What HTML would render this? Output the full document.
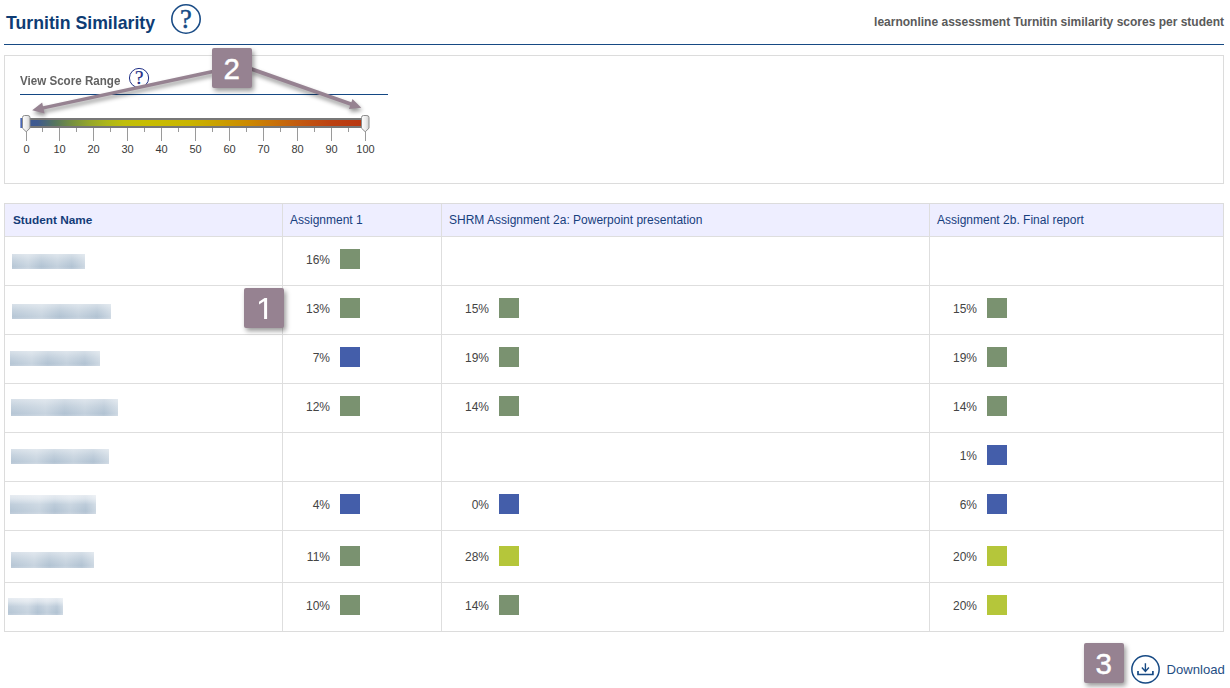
<!DOCTYPE html>
<html>
<head>
<meta charset="utf-8">
<title>Turnitin Similarity</title>
<style>
html,body{margin:0;padding:0;background:#fff;}
body{width:1230px;height:688px;position:relative;overflow:hidden;font-family:"Liberation Sans",sans-serif;}
.abs{position:absolute;}
#title{left:6px;top:13px;font-size:17.7px;font-weight:bold;color:#0e3c74;white-space:nowrap;line-height:21px;}
#sub{right:6px;top:15px;font-size:12px;font-weight:bold;color:#5a5a5a;white-space:nowrap;line-height:14px;}
#hr{left:4px;top:44px;width:1220px;height:1px;background:#174a84;}
#panel{left:4px;top:55px;width:1218px;height:127px;border:1px solid #dcdcdc;}
#vsr{left:20px;top:72.8px;font-size:13.4px;font-weight:bold;color:#626262;white-space:nowrap;line-height:16px;transform:scaleX(0.866);transform-origin:0 0;}
#vsrline{left:20px;top:94px;width:368px;height:1px;background:#144884;}
#bar{left:20px;top:118px;width:348px;height:6px;border-top:2px solid #777;border-bottom:2px solid #777;
 background:linear-gradient(to right,#3c5898 0%,#3f5a8e 5%,#55755e 10%,#76903f 15%,#95a62a 20%,#adb61a 25%,#c0be0a 30%,#c8bd02 37%,#c9b400 49%,#caa000 57%,#cc8800 66%,#c87408 72%,#c25a10 80%,#bc4212 89%,#b83410 100%);}
.tick{position:absolute;width:1px;background:#9a9a9a;top:128px;}
.lab{position:absolute;top:143px;width:30px;margin-left:-15px;text-align:center;font-size:11px;color:#3a3a3a;line-height:13px;}
#tbl{left:4px;top:203px;width:1220px;height:429px;border:1px solid #dcdcdc;box-sizing:border-box;}
#thead{left:5px;top:204px;width:1218px;height:32px;background:#eeeeff;}
.hl{position:absolute;left:5px;width:1218px;height:1px;background:#dedede;}
.vl{position:absolute;top:204px;width:1px;height:427px;background:#dedede;}
.th{position:absolute;top:213px;font-size:12px;color:#17407e;white-space:nowrap;line-height:14px;}
.pc{position:absolute;width:40px;text-align:right;font-size:12px;color:#444;line-height:14px;white-space:nowrap;}
.sq{position:absolute;width:20px;height:20px;}
.g{background:#7a9270;}
.b{background:#445eaa;}
.y{background:#b5c63a;}
.nm{position:absolute;filter:blur(0.5px);}
.call{position:absolute;width:40px;height:40px;background:#968291;border-radius:2px;color:#fff;font-size:29.5px;line-height:41.5px;text-align:center;text-indent:-0.5px;-webkit-text-stroke:0.45px #fff;box-shadow:2px 3px 5px rgba(0,0,0,0.4);}
#dl{left:1166.5px;top:662px;font-size:13.1px;color:#1f4e84;line-height:15px;white-space:nowrap;}
</style>
</head>
<body>
<div id="title" class="abs">Turnitin Similarity</div>
<svg class="abs" style="left:170px;top:3px" width="32" height="32" viewBox="0 0 32 32">
 <circle cx="16" cy="16" r="14.2" fill="#fff" stroke="#1a4c86" stroke-width="1.6"/>
 <text x="16" y="24.6" text-anchor="middle" font-family="Liberation Serif" font-size="26.5" fill="#144a85" stroke="#144a85" stroke-width="0.45">?</text>
</svg>
<div id="sub" class="abs">learnonline assessment Turnitin similarity scores per student</div>
<div id="hr" class="abs"></div>

<div id="panel" class="abs"></div>
<div id="vsr" class="abs">View Score Range</div>
<svg class="abs" style="left:128px;top:66.85px" width="22" height="22" viewBox="0 0 22 22">
 <circle cx="11.05" cy="11" r="9.6" fill="#fff" stroke="#1f2f86" stroke-width="1"/>
 <text x="11.2" y="17" text-anchor="middle" font-family="Liberation Serif" font-size="19" fill="#1f2f86" stroke="#1f2f86" stroke-width="0.25">?</text>
</svg>
<div id="vsrline" class="abs"></div>
<div id="bar" class="abs"></div>
<div class="abs" style="left:20px;top:118px;width:3px;height:10px;background:linear-gradient(to right,#b4bcd6 0%,#4a68b8 45%,#4060b0 100%)"></div>

<div class="tick" style="left:26px;height:13px"></div>
<div class="lab" style="left:26.5px">0</div>
<div class="tick" style="left:42px;height:4px"></div>
<div class="tick" style="left:59px;height:13px"></div>
<div class="lab" style="left:59.5px">10</div>
<div class="tick" style="left:76px;height:4px"></div>
<div class="tick" style="left:93px;height:13px"></div>
<div class="lab" style="left:93.5px">20</div>
<div class="tick" style="left:110px;height:4px"></div>
<div class="tick" style="left:127px;height:13px"></div>
<div class="lab" style="left:127.5px">30</div>
<div class="tick" style="left:144px;height:4px"></div>
<div class="tick" style="left:161px;height:13px"></div>
<div class="lab" style="left:161.5px">40</div>
<div class="tick" style="left:178px;height:4px"></div>
<div class="tick" style="left:195px;height:13px"></div>
<div class="lab" style="left:195.5px">50</div>
<div class="tick" style="left:212px;height:4px"></div>
<div class="tick" style="left:229px;height:13px"></div>
<div class="lab" style="left:229.5px">60</div>
<div class="tick" style="left:246px;height:4px"></div>
<div class="tick" style="left:263px;height:13px"></div>
<div class="lab" style="left:263.5px">70</div>
<div class="tick" style="left:280px;height:4px"></div>
<div class="tick" style="left:297px;height:13px"></div>
<div class="lab" style="left:297.5px">80</div>
<div class="tick" style="left:314px;height:4px"></div>
<div class="tick" style="left:331px;height:13px"></div>
<div class="lab" style="left:331.5px">90</div>
<div class="tick" style="left:348px;height:4px"></div>
<div class="tick" style="left:365px;height:13px"></div>
<div class="lab" style="left:365.5px">100</div>

<!-- table -->
<div id="tbl" class="abs"></div>
<div id="thead" class="abs"></div>

<div class="hl" style="top:236px"></div>
<div class="hl" style="top:285px"></div>
<div class="hl" style="top:334px"></div>
<div class="hl" style="top:383px"></div>
<div class="hl" style="top:432px"></div>
<div class="hl" style="top:481px"></div>
<div class="hl" style="top:530px"></div>
<div class="hl" style="top:582px"></div>
<div class="vl" style="left:282px"></div>
<div class="vl" style="left:441px"></div>
<div class="vl" style="left:929px"></div>
<div class="th" style="left:13px;font-weight:bold;color:#143c78;font-size:11.8px">Student Name</div>
<div class="th" style="left:290px">Assignment 1</div>
<div class="th" style="left:449px">SHRM Assignment 2a: Powerpoint presentation</div>
<div class="th" style="left:937px">Assignment 2b. Final report</div>

<div class="pc" style="left:290px;top:253px">16%</div>
<div class="sq g" style="left:340px;top:249px"></div>
<div class="pc" style="left:290px;top:302px">13%</div>
<div class="sq g" style="left:340px;top:298px"></div>
<div class="pc" style="left:449px;top:302px">15%</div>
<div class="sq g" style="left:499px;top:298px"></div>
<div class="pc" style="left:937px;top:302px">15%</div>
<div class="sq g" style="left:987px;top:298px"></div>
<div class="pc" style="left:290px;top:351px">7%</div>
<div class="sq b" style="left:340px;top:347px"></div>
<div class="pc" style="left:449px;top:351px">19%</div>
<div class="sq g" style="left:499px;top:347px"></div>
<div class="pc" style="left:937px;top:351px">19%</div>
<div class="sq g" style="left:987px;top:347px"></div>
<div class="pc" style="left:290px;top:400px">12%</div>
<div class="sq g" style="left:340px;top:396px"></div>
<div class="pc" style="left:449px;top:400px">14%</div>
<div class="sq g" style="left:499px;top:396px"></div>
<div class="pc" style="left:937px;top:400px">14%</div>
<div class="sq g" style="left:987px;top:396px"></div>
<div class="pc" style="left:937px;top:449px">1%</div>
<div class="sq b" style="left:987px;top:445px"></div>
<div class="pc" style="left:290px;top:498px">4%</div>
<div class="sq b" style="left:340px;top:494px"></div>
<div class="pc" style="left:449px;top:498px">0%</div>
<div class="sq b" style="left:499px;top:494px"></div>
<div class="pc" style="left:937px;top:498px">6%</div>
<div class="sq b" style="left:987px;top:494px"></div>
<div class="pc" style="left:290px;top:550px">11%</div>
<div class="sq g" style="left:340px;top:546px"></div>
<div class="pc" style="left:449px;top:550px">28%</div>
<div class="sq y" style="left:499px;top:546px"></div>
<div class="pc" style="left:937px;top:550px">20%</div>
<div class="sq y" style="left:987px;top:546px"></div>
<div class="pc" style="left:290px;top:599px">10%</div>
<div class="sq g" style="left:340px;top:595px"></div>
<div class="pc" style="left:449px;top:599px">14%</div>
<div class="sq g" style="left:499px;top:595px"></div>
<div class="pc" style="left:937px;top:599px">20%</div>
<div class="sq y" style="left:987px;top:595px"></div>
<div class="nm" style="left:12px;top:254px;width:73px;height:15px;background:linear-gradient(to right,rgba(255,255,255,.05) 0%,rgba(255,255,255,.28) 22%,rgba(255,255,255,0) 40%,rgba(255,255,255,.22) 62%,rgba(255,255,255,0) 82%,rgba(255,255,255,.35) 100%),linear-gradient(to bottom,#d6dfe8 0%,#c0cedb 45%,#b2c3d3 85%,#bccad8 100%)"></div>
<div class="nm" style="left:12px;top:304px;width:99px;height:15px;background:linear-gradient(to right,rgba(255,255,255,.05) 0%,rgba(255,255,255,.28) 30%,rgba(255,255,255,0) 48%,rgba(255,255,255,.22) 67%,rgba(255,255,255,0) 86%,rgba(255,255,255,.35) 100%),linear-gradient(to bottom,#d6dfe8 0%,#c0cedb 45%,#b2c3d3 85%,#bccad8 100%)"></div>
<div class="nm" style="left:10px;top:351px;width:90px;height:15px;background:linear-gradient(to right,rgba(255,255,255,.05) 0%,rgba(255,255,255,.28) 24%,rgba(255,255,255,0) 42%,rgba(255,255,255,.22) 63%,rgba(255,255,255,0) 83%,rgba(255,255,255,.35) 100%),linear-gradient(to bottom,#d6dfe8 0%,#c0cedb 45%,#b2c3d3 85%,#bccad8 100%)"></div>
<div class="nm" style="left:11px;top:399px;width:107px;height:17px;background:linear-gradient(to right,rgba(255,255,255,.05) 0%,rgba(255,255,255,.28) 32%,rgba(255,255,255,0) 50%,rgba(255,255,255,.22) 69%,rgba(255,255,255,0) 87%,rgba(255,255,255,.35) 100%),linear-gradient(to bottom,#d6dfe8 0%,#c0cedb 45%,#b2c3d3 85%,#bccad8 100%)"></div>
<div class="nm" style="left:11px;top:449px;width:98px;height:15px;background:linear-gradient(to right,rgba(255,255,255,.05) 0%,rgba(255,255,255,.28) 26%,rgba(255,255,255,0) 44%,rgba(255,255,255,.22) 64%,rgba(255,255,255,0) 84%,rgba(255,255,255,.35) 100%),linear-gradient(to bottom,#d6dfe8 0%,#c0cedb 45%,#b2c3d3 85%,#bccad8 100%)"></div>
<div class="nm" style="left:10px;top:495px;width:86px;height:19px;background:linear-gradient(to right,rgba(255,255,255,.05) 0%,rgba(255,255,255,.28) 34%,rgba(255,255,255,0) 52%,rgba(255,255,255,.22) 70%,rgba(255,255,255,0) 88%,rgba(255,255,255,.35) 100%),linear-gradient(to bottom,#e6ebf1 0%,#dbe3eb 20%,#bccbd9 50%,#b2c3d3 85%,#bccad8 100%)"></div>
<div class="nm" style="left:11px;top:552px;width:83px;height:16px;background:linear-gradient(to right,rgba(255,255,255,.05) 0%,rgba(255,255,255,.28) 28%,rgba(255,255,255,0) 46%,rgba(255,255,255,.22) 66%,rgba(255,255,255,0) 85%,rgba(255,255,255,.35) 100%),linear-gradient(to bottom,#d6dfe8 0%,#c0cedb 45%,#b2c3d3 85%,#bccad8 100%)"></div>
<div class="nm" style="left:8px;top:598px;width:55px;height:17px;background:linear-gradient(to right,rgba(255,255,255,.05) 0%,rgba(255,255,255,.28) 36%,rgba(255,255,255,0) 54%,rgba(255,255,255,.22) 71%,rgba(255,255,255,0) 89%,rgba(255,255,255,.35) 100%),linear-gradient(to bottom,#e6ebf1 0%,#dbe3eb 20%,#bccbd9 50%,#b2c3d3 85%,#bccad8 100%)"></div>

<!-- download -->
<svg class="abs" style="left:1130px;top:654px" width="32" height="32" viewBox="0 0 32 32">
 <circle cx="15.5" cy="15.4" r="13.65" fill="#fff" stroke="#174a84" stroke-width="1.5"/>
 <path d="M15.4 9.2V17M11.9 13.5l3.5 3.9 3.5-3.9" fill="none" stroke="#174a84" stroke-width="1.4"/>
 <path d="M8 17V20.5H22.9V17" fill="none" stroke="#174a84" stroke-width="1.7"/>
</svg>
<div id="dl" class="abs">Download</div>

<!-- callouts & arrows -->
<svg class="abs" style="left:0;top:0;filter:drop-shadow(1px 3px 2px rgba(0,0,0,0.42))" width="420" height="140" viewBox="0 0 420 140">
 <g fill="#968291" stroke="none">
  <path d="M212.63 69.79 L42.98 106.20 L42.16 102.38 L32.20 110.30 L44.53 113.43 L43.71 109.62 L213.37 73.21 Z"/>
  <path d="M250.37 70.69 L350.10 105.78 L348.94 109.08 L361.30 107.70 L352.53 98.89 L351.37 102.19 L251.63 67.11 Z"/>
 </g>
</svg>
<div class="call" style="left:212px;top:48px">2</div>
<div class="call" style="left:244px;top:288px"><svg style="position:absolute;left:0;top:0" width="40" height="40" viewBox="0 0 40 40"><path d="M20.6 9.9 H23.1 V30.9 H20.1 V13.3 L15 16.6 V13.7 Z" fill="#fff"/></svg></div>
<div class="call" style="left:1084px;top:643px">3</div>

<!-- slider handles -->
<svg class="abs" style="left:20px;top:113px" width="12" height="21" viewBox="0 0 12 21">
 <defs><linearGradient id="hg" x1="0" x2="1" y1="0" y2="0"><stop offset="0" stop-color="#fdfdfd"/><stop offset="0.55" stop-color="#ececec"/><stop offset="1" stop-color="#cfcfcf"/></linearGradient></defs>
 <path d="M2.5 4.6 Q2.5 2.5 4.6 2.5 H7.9 Q10 2.5 10 4.6 V15.2 L6.25 18.8 L2.5 15.2 Z" fill="url(#hg)" stroke="#8c8c8c" stroke-width="1"/>
</svg>
<svg class="abs" style="left:359px;top:113px" width="12" height="21" viewBox="0 0 12 21">
 <path d="M2.5 4.6 Q2.5 2.5 4.6 2.5 H7.9 Q10 2.5 10 4.6 V15.2 L6.25 18.8 L2.5 15.2 Z" fill="url(#hg)" stroke="#8c8c8c" stroke-width="1"/>
</svg>
</body>
</html>
